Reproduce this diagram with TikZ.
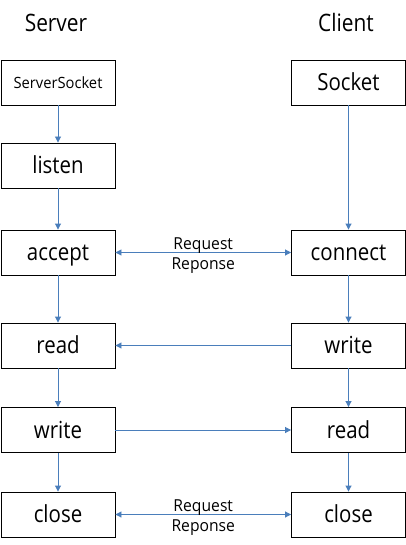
\documentclass[tikz,border=0pt]{standalone}
\usepackage{fontspec}
\setmainfont{Open Sans}[FakeStretch=0.87]
\newfontfamily\smallfont{Open Sans}[FakeStretch=0.95]
\usetikzlibrary{arrows.meta}
\definecolor{arrowblue}{HTML}{4A7EBB}
\tikzset{
  box/.style={draw=black, line width=0.9pt, minimum width=114pt, minimum height=45pt, inner sep=0pt,
    text height=17pt, text depth=0.4pt, font=\fontsize{23.5}{28}\selectfont},
  smallbox/.style={box, text height=12pt, text depth=0.4pt, font=\smallfont\fontsize{15.5}{18}\selectfont},
  title/.style={anchor=base, inner sep=0pt, font=\fontsize{24}{28}\selectfont},
  lbl/.style={anchor=base, inner sep=0pt, font=\smallfont\fontsize{16.5}{19}\selectfont},
  conn/.style={draw=arrowblue, line width=0.9pt, -{Triangle[length=6pt,width=6pt]}},
  biconn/.style={draw=arrowblue, line width=0.9pt, {Triangle[length=6pt,width=6pt]}-{Triangle[length=6pt,width=6pt]}}
}
\begin{document}
\begin{tikzpicture}[x=1pt,y=-1pt]
\useasboundingbox (0,0) rectangle (406,545);
\node[title] (server) at (56,31.7) {Server};
\node[title] (client) at (346,31.7) {Client};
\node[smallbox] (ss) at (58,82.5) {ServerSocket};
\node[box] (listen) at (58,165.5) {listen};
\node[box] (accept) at (58,252.5) {accept};
\node[box] (sread) at (58,345.5) {read};
\node[box] (swrite) at (58,430) {write};
\node[box] (sclose) at (58,514.5) {close};
\node[box] (sock) at (348.5,82.5) {Socket};
\node[box] (connect) at (348.5,252.5) {connect};
\node[box] (cwrite) at (348.5,345.5) {write};
\node[box] (cread) at (348.5,430) {read};
\node[box] (cclose) at (348.5,514.5) {close};
\draw[conn] (ss) -- (listen);
\draw[conn] (listen) -- (accept);
\draw[conn] (accept) -- (sread);
\draw[conn] (sread) -- (swrite);
\draw[conn] (swrite) -- (sclose);
\draw[conn] (sock) -- (connect);
\draw[conn] (connect) -- (cwrite);
\draw[conn] (cwrite) -- (cread);
\draw[conn] (cread) -- (cclose);
\draw[biconn] (accept) -- node[lbl, yshift=2.7pt] {Request} node[lbl, yshift=-17.3pt] {Reponse} (connect);
\draw[conn] (cwrite) -- (sread);
\draw[conn] (swrite) -- (cread);
\draw[biconn] (sclose) -- node[lbl, yshift=2.7pt] {Request} node[lbl, yshift=-17.3pt] {Reponse} (cclose);
\end{tikzpicture}
\end{document}
